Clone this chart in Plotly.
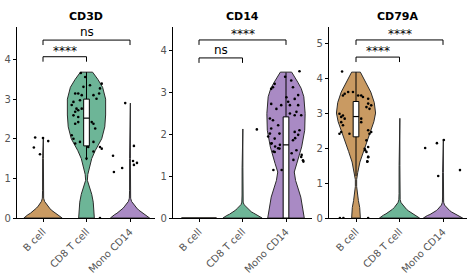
import plotly.graph_objects as go

W, H = 474, 276
FONT = "DejaVu Sans"

genes = ["CD3D", "CD14", "CD79A"]
categories = ["B cell", "CD8 T cell", "Mono CD14"]
colors = ["#C99A62", "#6DB597", "#A98AC4"]

# ---- violin density profiles: (levels, half-widths in category units) ----
cd3d_b_y = [0, 0.04, 0.08, 0.12, 0.16, 0.2, 0.25, 0.3, 0.35, 0.42, 0.5, 0.7, 1.5, 2.03]
cd3d_b_w = [0.44, 0.40, 0.35, 0.29, 0.24, 0.19, 0.15, 0.11, 0.075, 0.035, 0.015, 0.01, 0.009, 0.008]
cd3d_t_y = [0, 0.2, 0.4, 0.6, 0.8, 0.95, 1.1, 1.3, 1.5, 1.7, 2.0, 2.3, 2.6, 3.0, 3.3, 3.5, 3.68]
cd3d_t_w = [0.18, 0.17, 0.155, 0.12, 0.06, 0.02, 0.03, 0.07, 0.12, 0.2, 0.35, 0.42, 0.44, 0.44, 0.37, 0.26, 0.14]
cd3d_m_y = [0, 0.04, 0.08, 0.12, 0.16, 0.2, 0.25, 0.3, 0.35, 0.42, 0.5, 0.7, 1.5, 2.9]
cd3d_m_w = [0.45, 0.41, 0.36, 0.30, 0.25, 0.2, 0.155, 0.12, 0.08, 0.035, 0.015, 0.01, 0.009, 0.008]

cd14_b_y = [0, 0.004]
cd14_b_w = [0.4, 0.4]
cd14_t_y = [0, 0.03, 0.06, 0.09, 0.12, 0.15, 0.19, 0.23, 0.27, 0.32, 0.38, 0.55, 1.2, 2.13]
cd14_t_w = [0.45, 0.41, 0.36, 0.30, 0.25, 0.2, 0.155, 0.12, 0.08, 0.035, 0.015, 0.01, 0.009, 0.008]
cd14_m_y = [0, 0.5, 0.9, 1.1, 1.3, 1.7, 2.1, 2.5, 2.9, 3.1, 3.25, 3.4, 3.49]
cd14_m_w = [0.42, 0.34, 0.22, 0.19, 0.25, 0.36, 0.43, 0.44, 0.41, 0.35, 0.27, 0.19, 0.13]

cd79a_b_y = [0, 0.15, 0.3, 0.5, 0.7, 0.9, 1.1, 1.3, 1.6, 1.9, 2.2, 2.5, 2.75, 3.0, 3.3, 3.6, 3.9, 4.17]
cd79a_b_w = [0.1, 0.1, 0.085, 0.055, 0.03, 0.015, 0.015, 0.04, 0.09, 0.17, 0.26, 0.34, 0.41, 0.45, 0.42, 0.34, 0.21, 0.1]
cd79a_t_y = [0, 0.04, 0.08, 0.12, 0.16, 0.2, 0.25, 0.3, 0.35, 0.44, 0.52, 0.7, 1.5, 2.85]
cd79a_t_w = [0.46, 0.42, 0.37, 0.31, 0.26, 0.21, 0.16, 0.12, 0.085, 0.035, 0.015, 0.01, 0.009, 0.008]
cd79a_m_y = [0, 0.035, 0.07, 0.1, 0.135, 0.17, 0.21, 0.25, 0.3, 0.37, 0.45, 0.6, 1.3, 2.25]
cd79a_m_w = [0.45, 0.41, 0.36, 0.30, 0.25, 0.2, 0.155, 0.12, 0.08, 0.035, 0.015, 0.01, 0.009, 0.008]

# ---- box statistics (group, q1, median, q3, lower whisker, upper whisker) ----
cd3d_box = [1, 1.82, 2.52, 3.0, 1.46, 3.68]
cd14_box = [2, 0.0, 1.75, 2.42, 0.0, 3.48]
cd79a_box = [0, 2.32, 2.9, 3.33, 1.2, 4.17]

# ---- jittered points: group, jitter offset, value ----
cd3d_pts_g = [0]*5 + [1]*37 + [2]*8
cd3d_pts_j = [-0.18, 0.0, -0.21, -0.07, 0.12,
              -0.13, -0.03, -0.07, 0.08, 0.35, 0.31, -0.26, -0.19, -0.11, 0.16, 0.29,
              -0.30, -0.15, 0.23, -0.34, -0.23, -0.19, -0.26, -0.11, -0.30, -0.19,
              -0.26, -0.19, 0.12, 0.16, 0.20, -0.34, -0.30, -0.15, -0.26, 0.16, 0.04,
              0.31, 0.35, 0.16, 0.0, 0.31,
              -0.11, -0.39, -0.37, -0.18, 0.09, 0.07, 0.16, 0.09]
cd3d_pts_v = [2.03, 2.02, 1.78, 1.61, 1.94,
              3.66, 3.56, 3.31, 3.35, 3.39, 3.27, 3.14, 3.14, 3.1, 3.1, 3.14,
              2.93, 2.97, 3.01, 2.85, 2.76, 2.72, 2.68, 2.76, 2.59, 2.55,
              2.38, 2.42, 2.42, 2.38, 2.26, 2.09, 2.0, 1.92, 1.88, 1.92, 1.79,
              1.79, 1.75, 1.68, 1.5, 0.0,
              2.9, 1.57, 1.16, 1.26, 1.82, 1.44, 1.39, 1.34]

cd14_pts_g = [1] + [2]*50
cd14_pts_j = [0.33,
              0.31, 0.12, -0.30, -0.26, -0.34, 0.16, 0.28, 0.01, 0.20, 0.05, 0.09,
              -0.11, -0.22, -0.34, 0.28, 0.24, 0.09, 0.20, 0.35, -0.37, -0.30,
              -0.18, -0.34, -0.37, 0.20, 0.31, -0.15, -0.26, 0.16, -0.34, -0.15,
              -0.26, 0.24, 0.35, 0.39, -0.41, -0.33, -0.25, -0.18, -0.14, -0.29,
              -0.10, -0.29, 0.13, 0.17, 0.36, 0.40, 0.21, 0.28, -0.02]
cd14_pts_v = [2.12,
              3.51, 3.29, 3.13, 3.21, 3.09, 3.13, 2.94, 2.89, 2.85, 2.78, 2.70,
              2.70, 2.61, 2.73, 2.70, 2.54, 2.50, 2.46, 2.46, 2.38, 2.34,
              2.22, 2.14, 2.02, 2.06, 2.10, 2.02, 1.90, 1.86, 1.78, 1.66,
              1.58, 1.62, 1.46, 1.38, 1.95, 1.79, 1.71, 1.67, 1.75, 1.59,
              1.15, 1.15, 1.55, 1.39, 1.51, 1.35, 1.91, 1.99, 3.38]

cd79a_pts_g = [0]*39 + [2]*5
cd79a_pts_j = [-0.32, -0.26, -0.30, -0.18, -0.07, 0.05, 0.12, 0.16, 0.28, 0.28, 0.24, 0.31, 0.35,
               -0.38, -0.30, -0.26, -0.34, 0.12, -0.34, -0.30, 0.12, -0.38, -0.34, -0.15,
               0.28, 0.31, 0.35, 0.24, 0.28, 0.20, 0.24, 0.28, 0.26, 0.21, 0.28, 0.26,
               -0.37, -0.29, 0.28,
               -0.41, -0.14, -0.11, 0.02, 0.39]
cd79a_pts_v = [4.19, 3.55, 3.50, 3.6, 3.6, 3.5, 3.5, 3.46, 3.41, 3.27, 3.17, 3.12, 3.22,
               2.98, 2.93, 2.84, 2.89, 2.84, 2.74, 2.65, 2.74, 2.41, 2.46, 2.41,
               2.51, 2.41, 2.46, 2.22, 2.03, 1.98, 1.89, 1.74, 1.62, 1.94, 1.75, 1.61,
               0.0, 0.0, 0.0,
               2.0, 2.14, 1.2, 2.23, 1.37]

# ---- significance brackets: (group a, group b, height, label) ----
cd3d_brackets = [(0, 1, 4.07, "****"), (0, 2, 4.49, "ns")]
cd14_brackets = [(0, 1, 3.83, "ns"), (0, 2, 4.26, "****")]
cd79a_brackets = [(0, 1, 4.60, "****"), (0, 2, 5.09, "****")]

y_ranges = [4.82, 4.57, 5.46]
y_ticks = [[0, 1, 2, 3, 4], [0, 1, 2, 3, 4], [0, 1, 2, 3, 4, 5]]

panels = [
    dict(violins=[(cd3d_b_y, cd3d_b_w), (cd3d_t_y, cd3d_t_w), (cd3d_m_y, cd3d_m_w)],
         box=cd3d_box, pg=cd3d_pts_g, pj=cd3d_pts_j, pv=cd3d_pts_v, br=cd3d_brackets),
    dict(violins=[(cd14_b_y, cd14_b_w), (cd14_t_y, cd14_t_w), (cd14_m_y, cd14_m_w)],
         box=cd14_box, pg=cd14_pts_g, pj=cd14_pts_j, pv=cd14_pts_v, br=cd14_brackets),
    dict(violins=[(cd79a_b_y, cd79a_b_w), (cd79a_t_y, cd79a_t_w), (cd79a_m_y, cd79a_m_w)],
         box=cd79a_box, pg=cd79a_pts_g, pj=cd79a_pts_j, pv=cd79a_pts_v, br=cd79a_brackets),
]

# layout geometry (pixels)
x_px = [(17, 155), (173, 312), (329, 467)]
first_cat_px = [43, 199, 356]
px_per_cat = 43.5
y_bottom_px, y_top_px = 218, 27
BOX_HW = 0.065

fig = go.Figure()
layout = dict(width=W, height=H, margin=dict(l=0, r=0, t=0, b=0, autoexpand=False),
              paper_bgcolor="white", plot_bgcolor="white", showlegend=False,
              font=dict(family=FONT))
annotations = []
OUT = "#2b2b2b"

for i, p in enumerate(panels):
    sfx = "" if i == 0 else str(i + 1)
    xa, ya = "x" + sfx, "y" + sfx
    # violins
    for g, (ys, ws) in enumerate(p["violins"]):
        xs = [g - w for w in ws] + [g + w for w in reversed(ws)] + [g - ws[0]]
        yy = list(ys) + list(reversed(ys)) + [ys[0]]
        fig.add_trace(go.Scatter(x=xs, y=yy, mode="lines", fill="toself",
                                 fillcolor=colors[g], line=dict(color=OUT, width=1),
                                 xaxis=xa, yaxis=ya, hoverinfo="skip"))
    # box (whiskers, body, median) drawn from the box statistics
    g, q1, med, q3, lf, uf = p["box"]
    fig.add_trace(go.Scatter(x=[g, g, None, g, g], y=[q3, uf, None, lf, q1],
                             mode="lines", line=dict(color="black", width=1),
                             xaxis=xa, yaxis=ya, hoverinfo="skip"))
    fig.add_trace(go.Scatter(x=[g - BOX_HW, g + BOX_HW, g + BOX_HW, g - BOX_HW, g - BOX_HW],
                             y=[q1, q1, q3, q3, q1], mode="lines", fill="toself",
                             fillcolor="white", line=dict(color="black", width=1),
                             xaxis=xa, yaxis=ya, hoverinfo="skip"))
    fig.add_trace(go.Scatter(x=[g - BOX_HW, g + BOX_HW], y=[med, med], mode="lines",
                             line=dict(color="black", width=1.2),
                             xaxis=xa, yaxis=ya, hoverinfo="skip"))
    # points
    fig.add_trace(go.Scatter(x=[gg + jj for gg, jj in zip(p["pg"], p["pj"])], y=p["pv"],
                             mode="markers", marker=dict(color="black", size=2.6),
                             xaxis=xa, yaxis=ya, hoverinfo="skip"))
    # brackets
    drop = 0.026 * y_ranges[i]
    for a, b, h, lab in p["br"]:
        fig.add_trace(go.Scatter(x=[a, a, b, b], y=[h - drop, h, h, h - drop],
                                 mode="lines", line=dict(color="black", width=1),
                                 xaxis=xa, yaxis=ya, hoverinfo="skip"))
        annotations.append(dict(x=(a + b) / 2, y=h, xref=xa, yref=ya, text=lab,
                                showarrow=False, xanchor="center", yanchor="bottom",
                                yshift=-3 if lab.startswith("*") else -1,
                                font=dict(size=12, color="black", family=FONT)))
    # axes
    x0, x1 = x_px[i]
    left = -(first_cat_px[i] - x0) / px_per_cat
    right = left + (x1 - x0) / px_per_cat
    layout["xaxis" + sfx] = dict(domain=[x0 / W, x1 / W], range=[left, right],
                                 anchor=ya, tickmode="array", tickvals=[0, 1, 2],
                                 ticktext=categories, tickangle=-45, automargin=False,
                                 showline=True, linecolor="black", linewidth=1.2,
                                 ticks="outside", ticklen=3, tickcolor="black",
                                 tickfont=dict(size=10, color="#555555", family=FONT),
                                 showgrid=False, zeroline=False)
    layout["yaxis" + sfx] = dict(domain=[1 - y_bottom_px / H, 1 - y_top_px / H],
                                 range=[0, y_ranges[i]], anchor=xa, automargin=False,
                                 tickmode="array", tickvals=y_ticks[i],
                                 showline=True, linecolor="black", linewidth=1.2,
                                 ticks="outside", ticklen=3, tickcolor="black",
                                 tickfont=dict(size=10, color="#555555", family=FONT),
                                 showgrid=False, zeroline=False)
    annotations.append(dict(x=(x0 + x1) / 2 / W, y=1 - 16 / H, xref="paper", yref="paper",
                            xanchor="center", yanchor="middle",
                            text="<b>" + genes[i] + "</b>", showarrow=False,
                            font=dict(size=11, color="black", family=FONT)))

layout["annotations"] = annotations
fig.update_layout(**layout)
fig.write_html("out.html")
